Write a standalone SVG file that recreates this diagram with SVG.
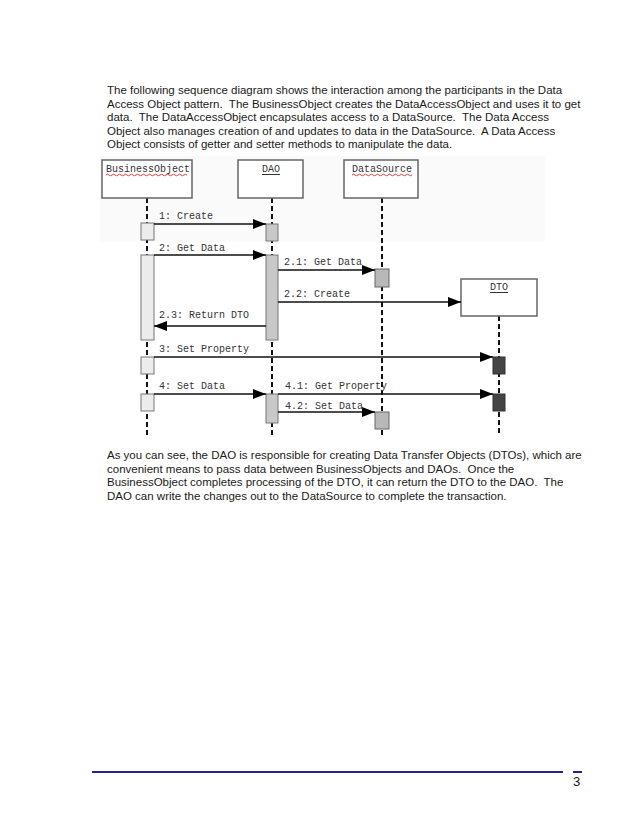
<svg xmlns="http://www.w3.org/2000/svg" width="638" height="826" viewBox="0 0 638 826">
<defs>
<style>
.p{font-family:"Liberation Sans",Arial,sans-serif;font-size:11.5px;fill:#1a1a1a;white-space:pre}
.m{font-family:"Liberation Mono","Courier New",monospace;font-size:10px;fill:#333;white-space:pre}
.box{fill:#fff;stroke:#666;stroke-width:1.5}
.life{stroke:#111;stroke-width:2;stroke-dasharray:5 3;fill:none}
.msg{stroke:#111;stroke-width:1.5;fill:none}
.a1{fill:#ececec;stroke:#777;stroke-width:1}
.a2{fill:#c8c8c8;stroke:#777;stroke-width:1}
.a3{fill:#b8b8b8;stroke:#666;stroke-width:1}
.a4{fill:#444;stroke:#333;stroke-width:1}
</style>
<marker id="ah" markerUnits="userSpaceOnUse" markerWidth="14" markerHeight="11" refX="13" refY="5" orient="auto">
<path d="M0,0 L13,5 L0,10 z" fill="#000"/>
</marker>
</defs>
<rect width="638" height="826" fill="#fff"/>
<g id="para1">
<text class="p" x="107" y="94">The following sequence diagram shows the interaction among the participants in the Data</text>
<text class="p" x="107" y="107.5">Access Object pattern.  The BusinessObject creates the DataAccessObject and uses it to get</text>
<text class="p" x="107" y="121">data.  The DataAccessObject encapsulates access to a DataSource.  The Data Access</text>
<text class="p" x="107" y="134.5">Object also manages creation of and updates to data in the DataSource.  A Data Access</text>
<text class="p" x="107" y="148">Object consists of getter and setter methods to manipulate the data.</text>
</g>
<rect x="100" y="156" width="445" height="86" fill="#fafafa"/>
<g id="lifelines">
<line class="life" x1="147" y1="198" x2="147" y2="437"/>
<line class="life" x1="272" y1="198" x2="272" y2="437"/>
<line class="life" x1="382" y1="198" x2="382" y2="437"/>
<line class="life" x1="499" y1="316" x2="499" y2="434"/>
</g>
<g id="BusinessObject">
<rect class="box" x="102" y="160" width="90" height="38"/>
<text class="m" x="106" y="172">BusinessObject</text>
<path d="M106,175 q1.5,-1.5 3,0 t3,0 t3,0 t3,0 t3,0 t3,0 t3,0 t3,0 t3,0 t3,0 t3,0 t3,0 t3,0 t3,0 t3,0 t3,0 t3,0 t3,0 t3,0 t3,0 t3,0 t3,0 t3,0 t3,0 t3,0 t3,0 t3,0" fill="none" stroke="#d04040" stroke-width="1"/>
</g>
<g id="DAO">
<rect class="box" x="238" y="160" width="65" height="38"/>
<text class="m" x="262" y="172">DAO</text>
<line x1="262" y1="174.5" x2="280" y2="174.5" stroke="#333" stroke-width="1"/>
</g>
<g id="DataSource">
<rect class="box" x="344" y="160" width="74" height="38"/>
<text class="m" x="352" y="172">DataSource</text>
<path d="M352,175 q1.5,-1.5 3,0 t3,0 t3,0 t3,0 t3,0 t3,0 t3,0 t3,0 t3,0 t3,0 t3,0 t3,0 t3,0 t3,0 t3,0 t3,0 t3,0 t3,0 t3,0 t3,0" fill="none" stroke="#d04040" stroke-width="1"/>
</g>
<g id="DTO">
<rect class="box" x="461" y="279" width="76" height="37"/>
<text class="m" x="490" y="290">DTO</text>
<line x1="490" y1="292.5" x2="508" y2="292.5" stroke="#333" stroke-width="1"/>
</g>
<g id="activations">
<rect class="a1" x="141" y="223" width="13" height="17"/>
<rect class="a2" x="266" y="224" width="12" height="17"/>
<rect class="a1" x="141" y="255" width="13" height="85"/>
<rect class="a2" x="266" y="255" width="12" height="85"/>
<rect class="a3" x="375" y="269" width="14" height="18"/>
<rect class="a1" x="141" y="357" width="13" height="17"/>
<rect class="a4" x="493" y="357" width="12" height="17"/>
<rect class="a1" x="141" y="394" width="13" height="17"/>
<rect class="a2" x="266" y="394" width="12" height="29"/>
<rect class="a4" x="493" y="394" width="12" height="17"/>
<rect class="a3" x="375" y="412" width="14" height="17"/>
</g>
<g id="connectors">
<line class="msg" x1="154" y1="224" x2="266" y2="224" marker-end="url(#ah)"/>
<line class="msg" x1="154" y1="255" x2="266" y2="255" marker-end="url(#ah)"/>
<line class="msg" x1="278" y1="270" x2="375" y2="270" marker-end="url(#ah)"/>
<line class="msg" x1="278" y1="302" x2="461" y2="302" marker-end="url(#ah)"/>
<line class="msg" x1="266" y1="326" x2="154" y2="326" marker-end="url(#ah)"/>
<line class="msg" x1="154" y1="357" x2="493" y2="357" marker-end="url(#ah)"/>
<line class="msg" x1="154" y1="394" x2="266" y2="394" marker-end="url(#ah)"/>
<line class="msg" x1="278" y1="394" x2="493" y2="394" marker-end="url(#ah)"/>
<line class="msg" x1="278" y1="412" x2="375" y2="412" marker-end="url(#ah)"/>
</g>
<g id="labels">
<text class="m" x="159" y="219">1: Create</text>
<text class="m" x="159" y="251">2: Get Data</text>
<text class="m" x="284" y="265">2.1: Get Data</text>
<text class="m" x="284" y="297">2.2: Create</text>
<text class="m" x="159" y="318">2.3: Return DTO</text>
<text class="m" x="159" y="352">3: Set Property</text>
<text class="m" x="159" y="389">4: Set Data</text>
<text class="m" x="285" y="389">4.1: Get Property</text>
<text class="m" x="285" y="409">4.2: Set Data</text>
</g>
<g id="para2">
<text class="p" x="107" y="459">As you can see, the DAO is responsible for creating Data Transfer Objects (DTOs), which are</text>
<text class="p" x="107" y="472.5">convenient means to pass data between BusinessObjects and DAOs.  Once the</text>
<text class="p" x="107" y="486">BusinessObject completes processing of the DTO, it can return the DTO to the DAO.  The</text>
<text class="p" x="107" y="499.5">DAO can write the changes out to the DataSource to complete the transaction.</text>
</g>
<g id="footer">
<line x1="92" y1="772" x2="563" y2="772" stroke="#22228f" stroke-width="2"/>
<line x1="573" y1="772" x2="582" y2="772" stroke="#22228f" stroke-width="2"/>
<text class="p" x="573" y="786" style="font-size:13px">3</text>
</g>
</svg>
